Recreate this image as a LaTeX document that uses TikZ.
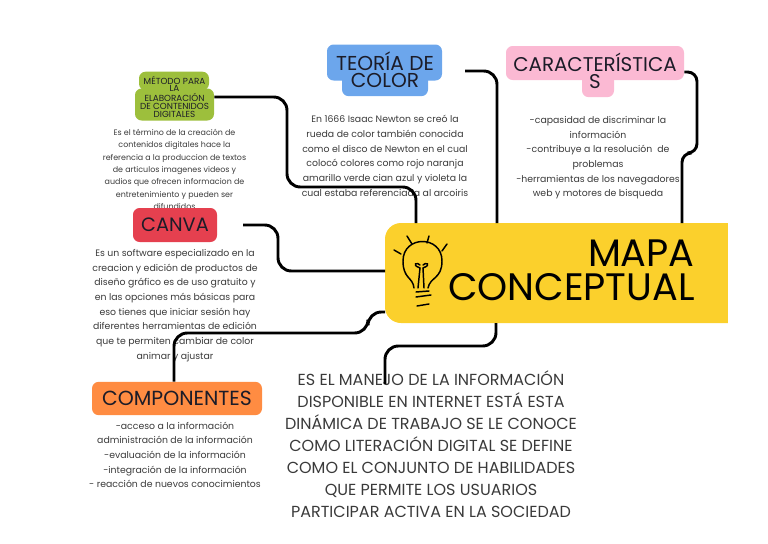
\documentclass[tikz,border=0pt]{standalone}
\usepackage{fontspec}
\setmainfont{Poppins}
\usetikzlibrary{positioning}
\definecolor{mapayellow}{HTML}{FBD02C}
\definecolor{teoriablue}{HTML}{6CA6EC}
\definecolor{caracpink}{HTML}{FBB9D3}
\definecolor{metodogreen}{HTML}{9DBF3C}
\definecolor{canvared}{HTML}{E5404F}
\definecolor{compoorange}{HTML}{FF8C42}
\definecolor{inktext}{HTML}{1C1C28}
\definecolor{bodytext}{HTML}{3A3A3A}
\begin{document}
\begin{tikzpicture}[
    x=0.75pt, y=-0.75pt,
    headbox/.style={rectangle, rounded corners=5pt, inner sep=0pt},
    headtext/.style={align=center, text=inktext, inner sep=0pt, font=\fontsize{15.1}{13}\selectfont},
    bodytext/.style={align=center, text=bodytext, inner sep=0pt, font=\fontsize{7}{11}\selectfont},
    link/.style={line width=2.2pt, rounded corners=10pt}
  ]
  \useasboundingbox (0,0) rectangle (768,543);

  % Central box
  \fill[mapayellow, rounded corners=12pt] (385,223) rectangle (760,323);
  \fill[white] (728,215) rectangle (768,330);
  \node[inner sep=0pt, minimum width=257.25pt, minimum height=75pt] (mapa) at (556.5,273) {};
  \node[align=right, anchor=east, inner sep=0pt, text=black, font=\fontsize{28.7}{25.5}\selectfont] (titulo) at (695,270) {MAPA\\CONCEPTUAL};

  % Bulb icon
  \begin{scope}[line width=1.1pt, line cap=round, black]
    \draw (414,288) .. controls (413,277) and (403,279) .. (403,261) .. controls (403,235) and (442,235) .. (442,261) .. controls (442,279) and (430,277) .. (428,288);
    \draw (418,288) -- (420,268) (424,288) -- (423,268);
    \draw (420,268) .. controls (410,264) and (418,262) .. (420,265) (423,268) .. controls (433,264) and (425,262) .. (423,265);
    \draw (416,292) -- (429,291) (416,297) -- (431,295) (417,306) -- (429,304);
    \draw (394,250) -- (401,254) (407,236) -- (412,244) (429,236) -- (427,243) (447,244) -- (442,251);
  \end{scope}

  % Green head
  \node[headbox, fill=metodogreen, minimum width=52.5pt, minimum height=14pt] (metodotop) at (174,81) {};
  \node[headbox, fill=metodogreen, minimum width=59.25pt, minimum height=24pt] (metodo) at (174.5,104.5) {};
  \node[align=center, inner sep=0pt, text=inktext, font=\fontsize{6.6}{5.9}\selectfont] (metodotxt) at (174.5,96.5) {MÉTODO PARA\\LA\\ELABORACIÓN\\DE CONTENIDOS\\DIGITALES};
  \node[bodytext, font=\fontsize{5.95}{9.3}\selectfont, below=6pt of metodo] (metodobody) {Es el término de la creación de\\contenidos digitales hace la\\referencia a la produccion de textos\\de articulos imagenes videos y\\audios que ofrecen informacion de\\entretenimiento y pueden ser\\difundidos};

  % Blue head
  \node[headbox, fill=teoriablue, minimum width=86.25pt, minimum height=27pt] (teoriatop) at (384.5,62.5) {};
  \node[headbox, fill=teoriablue, minimum width=64.5pt, minimum height=25pt] (teoria) at (385,79.5) {};
  \node[headtext] (teoriatxt) at (385,70) {TEORÍA DE\\COLOR};
  \node[bodytext, below=14pt of teoria] (teoriabody) {En 1666 Isaac Newton se creó la\\rueda de color también conocida\\como el disco de Newton en el cual\\colocó colores como rojo naranja\\amarillo verde cian azul y violeta la\\cual estaba referenciada al arcoiris};

  % Pink head
  \node[headbox, fill=caracpink, minimum width=133.5pt, minimum height=25.5pt] (caractop) at (595,63) {};
  \node[headbox, fill=caracpink, minimum width=24pt, minimum height=25pt] (caractab) at (598,80.5) {};
  \node[headtext, font=\fontsize{14.9}{13}\selectfont] (caractxt) at (595,71) {CARACTERÍSTICA\\S};
  \node[bodytext, below=14pt of caractab] (caracbody) {-capasidad de discriminar la\\información\\-contribuye a la resolución\ \ de\\problemas\\-herramientas de los navegadores\\web y motores de bisqueda};

  % Red head
  \node[headbox, fill=canvared, minimum width=63pt, minimum height=25.5pt, text=inktext, font=\fontsize{14.5}{18}\selectfont] (canva) at (175,225) {CANVA};
  \node[bodytext, below=5pt of canva] (canvabody) {Es un software especializado en la\\creacion y edición de productos de\\diseño gráfico es de uso gratuito y\\en las opciones más básicas para\\eso tienes que iniciar sesión hay\\diferentes herramientas de edición\\que te permiten cambiar de color\\animar y ajustar};

  % Orange head
  \node[headbox, fill=compoorange, minimum width=127.5pt, minimum height=25pt, text=inktext, font=\fontsize{15.3}{18}\selectfont] (compo) at (177,398.5) {COMPONENTES\hspace{3pt}};
  \node[bodytext, below=4.5pt of compo, xshift=-1.5pt] (compobody) {-acceso a la información\\administración de la información\\-evaluación de la información\\-integración de la información\\- reacción de nuevos conocimientos};

  % Bottom text
  \node[align=center, inner sep=0pt, text=bodytext, font=\fontsize{12}{16.5}\selectfont] (manejo) at (431,444) {ES EL MANEJO DE LA INFORMACIÓN\\DISPONIBLE EN INTERNET ESTÁ ESTA\\DINÁMICA DE TRABAJO SE LE CONOCE\\COMO LITERACIÓN DIGITAL SE DEFINE\\COMO EL CONJUNTO DE HABILIDADES\\QUE PERMITE LOS USUARIOS\\PARTICIPAR ACTIVA EN LA SOCIEDAD};

  % Free ends
  \coordinate (canvaout) at (243,225);
  \coordinate (teoriaout) at (465,71);
  \coordinate (manejoin) at (385,384);
  \coordinate (mapaa) at (416,223);
  \coordinate (mapab) at (497,223);
  \coordinate (mapac) at (682,223);
  \coordinate (mapad) at (385,271);
  \coordinate (mapae) at (385,312);
  \coordinate (mapaf) at (496,323);

  % Connectors
  \draw[link] (metodo.east |- 0,97) -- (287,97) -- (287,187) -- (416,187) -- (mapaa);
  \draw[link] (teoriaout) -- (497,71) -- (497,223) -- (mapab);
  \draw[link, rounded corners=7pt] (caractop.east |- 0,72) -- (697,72) -- (697,153) -- (682,153) -- (mapac);
  \draw[link] (canvaout) -- (278,225) -- (278,271) -- (mapad);
  \draw[link] (mapae) -- (368,312) -- (368,333) -- (174,333) -- (compo.north -| 174,0);
  \draw[link] (mapaf) -- (496,346) -- (385,346) -- (manejoin);
\end{tikzpicture}
\end{document}
